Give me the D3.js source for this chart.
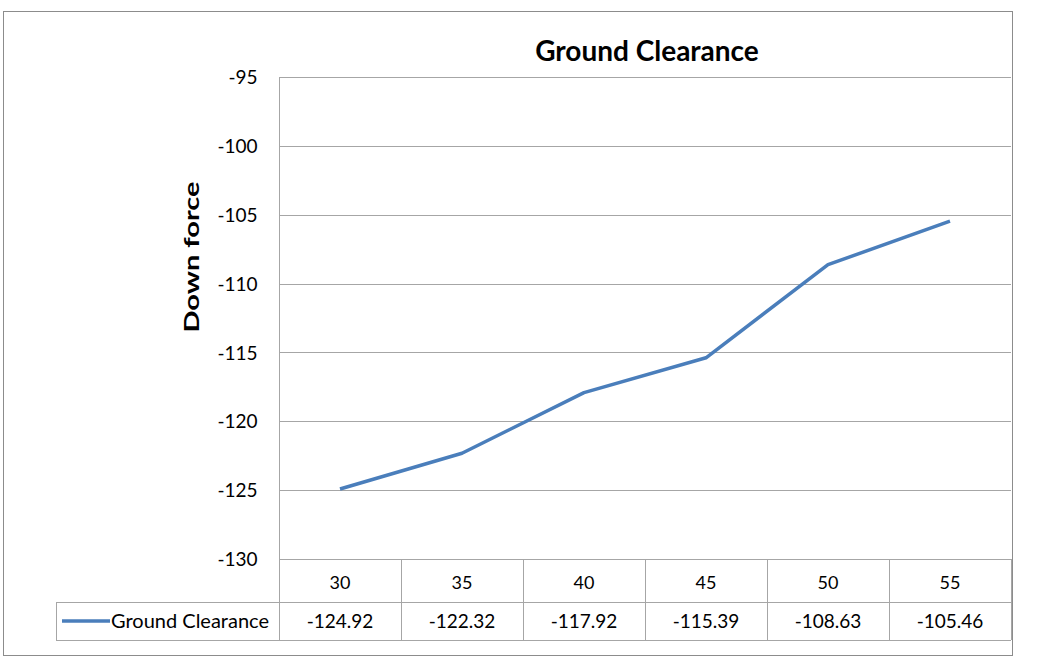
<!DOCTYPE html>
<html>
<head>
<meta charset="utf-8" />
<title>Ground Clearance</title>
<style>
  body { margin: 0; background: #fff; }
  svg text { font-family: Lato, "Open Sans", sans-serif; fill: #000; }
</style>
</head>
<body>
<svg width="1039" height="657"></svg>
<script src="https://cdn.jsdelivr.net/npm/d3@7/dist/d3.min.js"></script>
<script>
var categories = [30, 35, 40, 45, 50, 55];
var values = [-124.92, -122.32, -117.92, -115.39, -108.63, -105.46];
var valueLabels = ['-124.92', '-122.32', '-117.92', '-115.39', '-108.63', '-105.46'];
var yTicks = [-95, -100, -105, -110, -115, -120, -125, -130];
var seriesName = 'Ground Clearance';

var svg = d3.select('svg');
var plotLeft = 279, plotRight = 1011, plotTop = 77, plotBottom = 559;
var row1 = 602, row2 = 640, legendLeft = 56;
var gridColor = '#a6a6a6';
var lineColor = '#4a7ebb';
var fontFamily = 'Lato, "Open Sans", sans-serif';

// outer frame
svg.append('rect')
    .attr('x', 3.5).attr('y', 11.5)
    .attr('width', 1009).attr('height', 644)
    .attr('fill', 'none').attr('stroke', '#8c8c8c').attr('stroke-width', 1);

var x = d3.scaleBand()
    .domain(categories)
    .range([plotLeft, plotRight]);

var y = d3.scaleLinear()
    .domain([-130, -95])
    .range([plotBottom, plotTop]);

// gridlines
svg.append('g')
    .selectAll('line')
    .data(yTicks)
    .enter()
    .append('line')
    .attr('x1', plotLeft).attr('x2', plotRight)
    .attr('y1', function (d) { return Math.round(y(d)) + 0.5; })
    .attr('y2', function (d) { return Math.round(y(d)) + 0.5; })
    .attr('stroke', gridColor);

// y axis (plain hyphen minus like the original)
var yAxis = svg.append('g')
    .attr('transform', 'translate(' + (plotLeft + 0.5) + ',0)')
    .call(d3.axisLeft(y)
        .tickValues(yTicks)
        .tickFormat(function (d) { return String(d); })
        .tickSize(0)
        .tickPadding(22));
yAxis.select('.domain').attr('stroke', gridColor).attr('d', 'M0,' + plotTop + 'V' + row2);
yAxis.selectAll('text')
    .attr('font-size', 19)
    .attr('font-family', fontFamily)
    .attr('dy', '0.35em');

// title and axis label
svg.append('text')
    .attr('x', 647).attr('y', 61)
    .attr('text-anchor', 'middle')
    .attr('font-size', 28)
    .attr('font-weight', 'bold')
    .text(seriesName);

svg.append('text')
    .attr('transform', 'translate(199,257) rotate(-90) scale(1.38,1)')
    .attr('text-anchor', 'middle')
    .attr('font-size', 21)
    .attr('font-weight', 'bold')
    .text('Down force');

// data table
var table = svg.append('g');
table.append('line')
    .attr('x1', legendLeft).attr('x2', plotRight)
    .attr('y1', row1 + 0.5).attr('y2', row1 + 0.5)
    .attr('stroke', gridColor);
table.append('line')
    .attr('x1', legendLeft).attr('x2', plotRight)
    .attr('y1', row2 + 0.5).attr('y2', row2 + 0.5)
    .attr('stroke', gridColor);
table.append('line')
    .attr('x1', legendLeft + 0.5).attr('x2', legendLeft + 0.5)
    .attr('y1', row1).attr('y2', row2)
    .attr('stroke', gridColor);
table.selectAll('line.col')
    .data(categories)
    .enter()
    .append('line')
    .attr('class', 'col')
    .attr('x1', function (d) { return Math.round(x(d) + x.bandwidth()) + 0.5; })
    .attr('x2', function (d) { return Math.round(x(d) + x.bandwidth()) + 0.5; })
    .attr('y1', plotBottom).attr('y2', row2)
    .attr('stroke', gridColor);

table.selectAll('text.cat')
    .data(categories)
    .enter()
    .append('text')
    .attr('class', 'cat')
    .attr('x', function (d) { return x(d) + x.bandwidth() / 2; })
    .attr('y', 589)
    .attr('text-anchor', 'middle')
    .attr('font-size', 18)
    .text(function (d) { return d; });

table.selectAll('text.val')
    .data(valueLabels)
    .enter()
    .append('text')
    .attr('class', 'val')
    .attr('x', function (d, i) { return x(categories[i]) + x.bandwidth() / 2; })
    .attr('y', 628)
    .attr('text-anchor', 'middle')
    .attr('font-size', 19)
    .text(function (d) { return d; });

// legend key
table.append('line')
    .attr('x1', 62).attr('x2', 110)
    .attr('y1', 621).attr('y2', 621)
    .attr('stroke', lineColor).attr('stroke-width', 3.5);
table.append('text')
    .attr('x', 111).attr('y', 628)
    .attr('font-size', 20)
    .text(seriesName);

// series line
var line = d3.line()
    .x(function (d, i) { return x(categories[i]) + x.bandwidth() / 2; })
    .y(function (d) { return y(d); });

svg.append('path')
    .datum(values)
    .attr('d', line)
    .attr('fill', 'none')
    .attr('stroke', lineColor)
    .attr('stroke-width', 3.5)
    .attr('stroke-linejoin', 'round');
</script>
</body>
</html>
